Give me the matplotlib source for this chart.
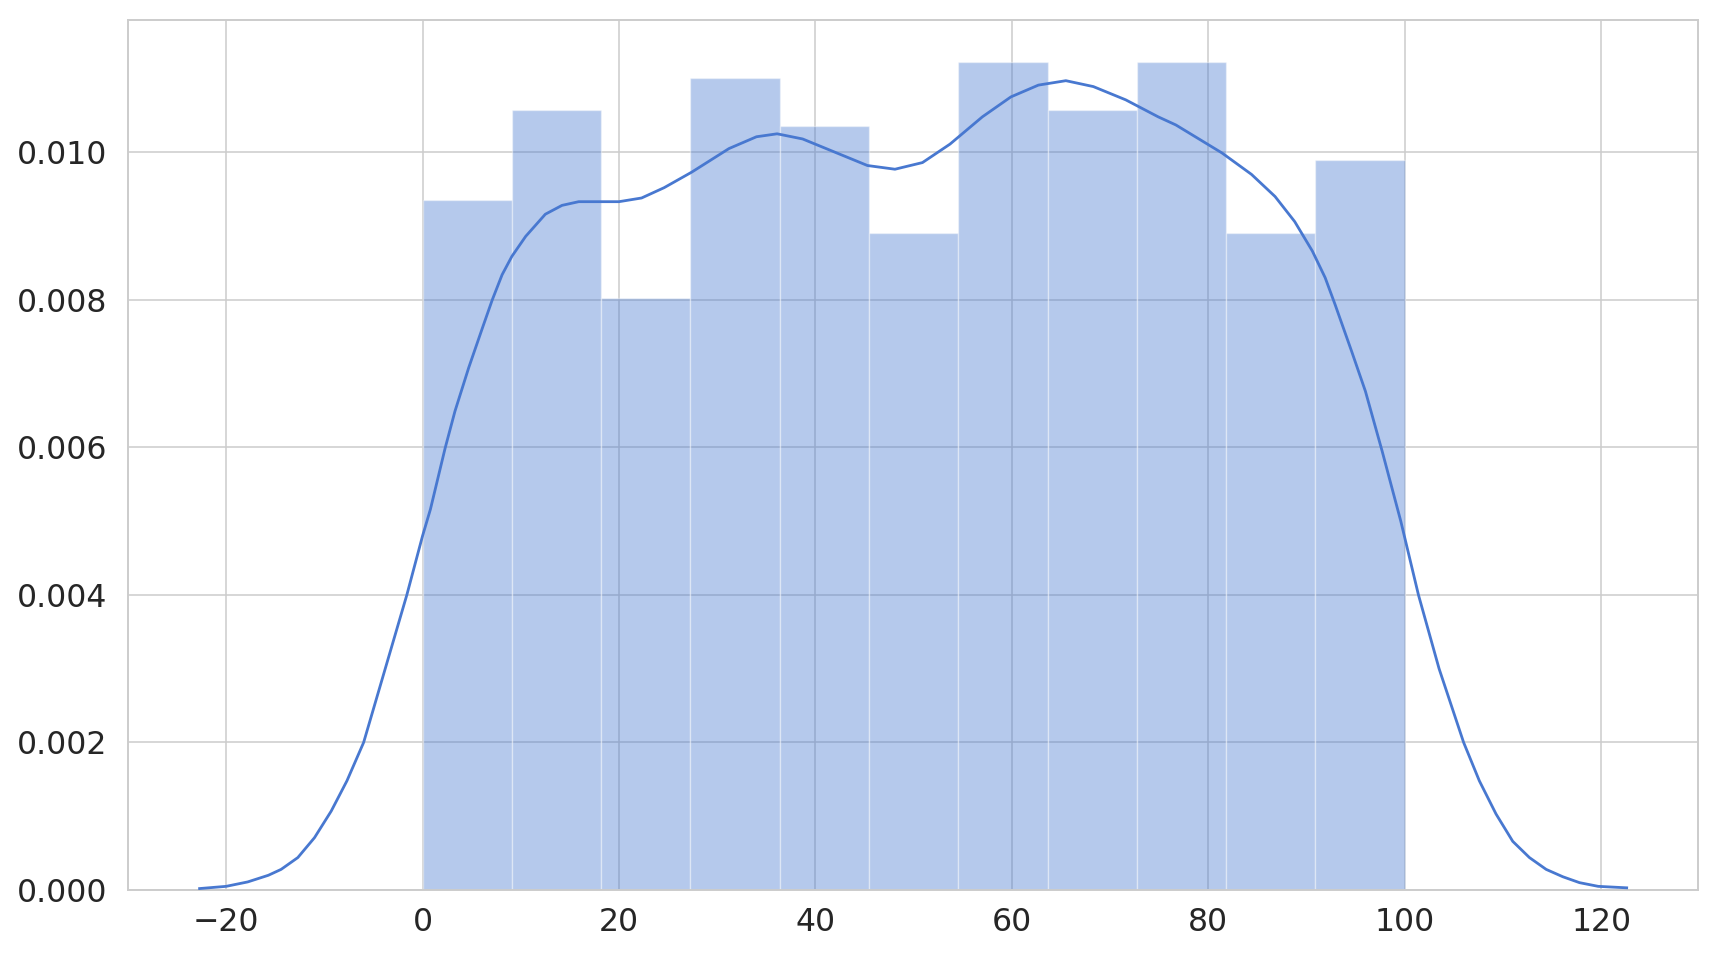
import numpy as np
import matplotlib
matplotlib.use("Agg")
import matplotlib.pyplot as plt

# histogram: 11 equal bins between 0 and 100, density heights
bin_lo, bin_hi, n_bins = 0, 100, 11
bar_heights = [0.00935, 0.01057, 0.00802, 0.01101, 0.01035, 0.00890,
               0.01123, 0.01057, 0.01123, 0.00890, 0.00989]

# kde curve (y in units of 1e-3)
kde_x = [-22.7, -20.0, -17.8, -15.7, -14.4, -12.7, -11.0, -9.3, -7.7, -6.0,
         -3.8, -1.6, 0.0, 0.8, 2.3, 3.3, 4.7, 6.1, 7.1, 8.1,
         9.1, 10.5, 12.5, 14.2, 15.9, 18.0, 20.0, 22.3, 24.6, 27.4,
         31.2, 34.0, 36.1, 38.7, 42.0, 45.3, 48.1, 50.9, 53.7, 57.0,
         59.9, 62.7, 65.5, 68.3, 71.6, 74.9, 76.7, 81.4, 84.4, 86.8,
         88.8, 90.6, 91.9, 92.9, 94.6, 96.0, 97.7, 99.6, 101.4, 103.5,
         106.0, 107.6, 109.3, 111.0, 112.7, 114.4, 116.1, 117.8, 119.7, 122.6]
kde_y = [0.02, 0.05, 0.11, 0.20, 0.28, 0.44, 0.71, 1.07, 1.48, 2.00,
         3.00, 4.00, 4.80, 5.16, 5.99, 6.49, 7.08, 7.62, 8.00, 8.34,
         8.59, 8.86, 9.16, 9.28, 9.33, 9.33, 9.33, 9.38, 9.52, 9.73,
         10.05, 10.21, 10.25, 10.18, 10.00, 9.82, 9.77, 9.86, 10.11, 10.48,
         10.75, 10.91, 10.97, 10.89, 10.71, 10.48, 10.37, 9.99, 9.70, 9.40,
         9.06, 8.66, 8.30, 7.94, 7.30, 6.76, 5.95, 5.00, 4.00, 3.00,
         2.00, 1.48, 1.03, 0.66, 0.44, 0.28, 0.18, 0.10, 0.05, 0.03]

blue = "#4878d0"
grid_col = "#cccccc"
text_col = "#262626"

fig = plt.figure(figsize=(17.1, 9.56), dpi=100)
ax = fig.add_axes([0.075, 0.069, 0.918, 0.910])

edges = np.linspace(bin_lo, bin_hi, n_bins + 1)
ax.bar(edges[:-1], bar_heights, width=np.diff(edges), align="edge",
       color=blue, alpha=0.4, edgecolor="white", linewidth=1.0, zorder=2)
ax.plot(kde_x, np.array(kde_y) / 1000, color=blue, lw=2.0, zorder=3)

ax.set_axisbelow(True)
ax.grid(True, color=grid_col, lw=1.1)
for s in ax.spines.values():
    s.set_color(grid_col)
    s.set_linewidth(1.4)
ax.tick_params(length=0, labelsize=22.7, labelcolor=text_col)
ax.tick_params(axis="x", pad=12)
ax.tick_params(axis="y", pad=15)

fig.savefig("out.png", dpi=100, facecolor="white")
